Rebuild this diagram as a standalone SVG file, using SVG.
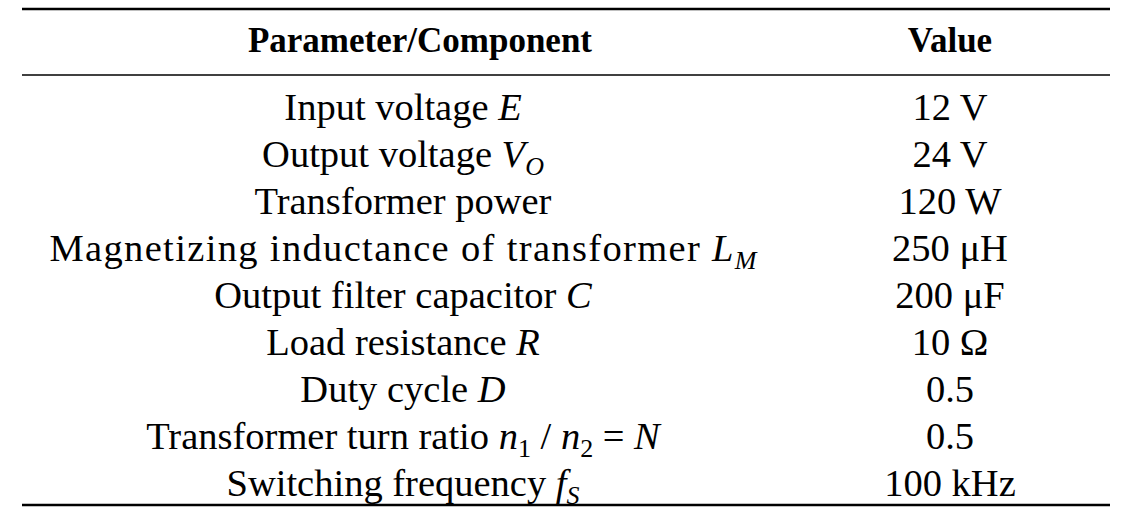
<svg xmlns="http://www.w3.org/2000/svg" width="1130" height="511" viewBox="0 0 1130 511">
<style>
text{font-family:"Liberation Serif","DejaVu Serif",serif;font-size:38.5px;fill:#000;text-anchor:middle}
.b{font-weight:bold;font-size:35px}
.i{font-style:italic}
.s{font-size:26px}
</style>
<rect width="1130" height="511" fill="#fff"/>
<g id="rules" stroke="#000">
<line x1="22" y1="9" x2="1110" y2="9" stroke-width="2.5"/>
<line x1="22" y1="75" x2="1110" y2="75" stroke-width="1.3"/>
<line x1="22" y1="505" x2="1110" y2="505" stroke-width="2.5"/>
</g>
<g id="header">
<text class="b" x="420" y="52">Parameter/Component</text>
<text class="b" x="950" y="52">Value</text>
</g>
<g id="col1">
<text x="403" y="120">Input voltage <tspan class="i">E</tspan></text>
<text x="403" y="167">Output voltage <tspan class="i">V</tspan><tspan class="i s" dy="8">O</tspan></text>
<text x="403" y="214">Transformer power</text>
<text x="403" y="261" textLength="707" lengthAdjust="spacing">Magnetizing inductance of transformer <tspan class="i">L</tspan><tspan class="i s" dy="8">M</tspan></text>
<text x="403" y="308">Output filter capacitor <tspan class="i">C</tspan></text>
<text x="403" y="355">Load resistance <tspan class="i">R</tspan></text>
<text x="403" y="402">Duty cycle <tspan class="i">D</tspan></text>
<text x="403" y="449">Transformer turn ratio <tspan class="i">n</tspan><tspan class="s" dy="8">1</tspan><tspan dy="-8"> / </tspan><tspan class="i">n</tspan><tspan class="s" dy="8">2</tspan><tspan dy="-8"> = </tspan><tspan class="i">N</tspan></text>
<text x="403" y="496">Switching frequency <tspan class="i">f</tspan><tspan class="i s" dy="8">S</tspan></text>
</g>
<g id="col2">
<text x="950" y="120">12 V</text>
<text x="950" y="167">24 V</text>
<text x="950" y="214">120 W</text>
<text x="950" y="261">250 μH</text>
<text x="950" y="308">200 μF</text>
<text x="950" y="355">10 Ω</text>
<text x="950" y="402">0.5</text>
<text x="950" y="449">0.5</text>
<text x="950" y="496">100 kHz</text>
</g>
</svg>
